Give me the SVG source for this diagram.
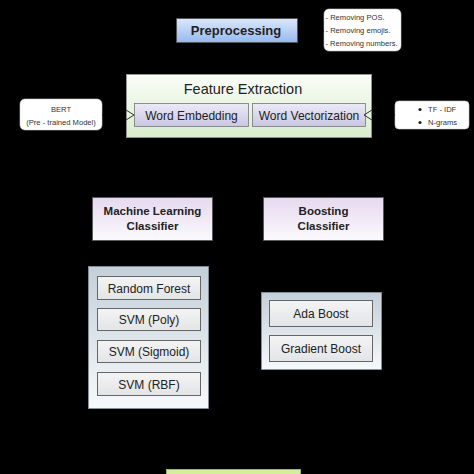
<svg xmlns="http://www.w3.org/2000/svg" width="474" height="474" viewBox="0 0 474 474">
<defs>
<linearGradient id="gBlue" x1="0" y1="0" x2="0" y2="1"><stop offset="0" stop-color="#dbe8fc"/><stop offset="1" stop-color="#98b8ee"/></linearGradient>
<linearGradient id="gGreen" x1="0" y1="0" x2="0" y2="1"><stop offset="0" stop-color="#fbfdf9"/><stop offset="1" stop-color="#d9edcc"/></linearGradient>
<linearGradient id="gLav" x1="0" y1="0" x2="0" y2="1"><stop offset="0" stop-color="#eceaf6"/><stop offset="1" stop-color="#c9c6e2"/></linearGradient>
<linearGradient id="gPink" x1="0" y1="0" x2="0" y2="1"><stop offset="0" stop-color="#e6d9ef"/><stop offset="1" stop-color="#fbfafd"/></linearGradient>
<linearGradient id="gCont" x1="0" y1="0" x2="0" y2="1"><stop offset="0" stop-color="#c3cfd9"/><stop offset="1" stop-color="#f7f9fb"/></linearGradient>
<linearGradient id="gItem" x1="0" y1="0" x2="0" y2="1"><stop offset="0" stop-color="#f4f4f4"/><stop offset="1" stop-color="#e2e4e6"/></linearGradient>
<marker id="arr" markerWidth="10" markerHeight="12" refX="1" refY="6" orient="auto" markerUnits="userSpaceOnUse"><path d="M1,1 L9,6 L1,11" fill="none" stroke="#333" stroke-width="1"/></marker>
<style>
.t{font-family:"Liberation Sans",Arial,sans-serif;fill:#222;text-anchor:middle}
.s{text-anchor:start}
.b{font-weight:bold}
.note{fill:#fff;stroke:#ccc;stroke-width:0.6}
.nt{font-size:7.6px;fill:#333}
.item{fill:url(#gItem);stroke:#666;stroke-width:1}
.cont{fill:url(#gCont);stroke:#8a96a0;stroke-width:0.8}
.conn{fill:none;stroke:#000;stroke-width:1}
</style>
</defs>
<rect width="474" height="474" fill="#000"/>
<g id="preprocessing">
<rect x="176.5" y="18.5" width="121" height="24" fill="url(#gBlue)" stroke="#555" stroke-width="1"/>
<text class="t b" x="236" y="35" font-size="13">Preprocessing</text>
</g>
<g id="prep-notes">
<rect class="note" x="324" y="9" width="77" height="42" rx="5"/>
<text class="t s nt" x="325.5" y="20">- Removing POS.</text>
<text class="t s nt" x="325.5" y="33">- Removing emojis.</text>
<text class="t s nt" x="325.5" y="46" textLength="72" lengthAdjust="spacingAndGlyphs">- Removing numbers.</text>
</g>
<g id="feature-extraction">
<rect x="126.5" y="74.5" width="245" height="63" fill="url(#gGreen)" stroke="#999" stroke-width="0.8"/>
<text class="t" x="243" y="94" font-size="14.5">Feature Extraction</text>
</g>
<g id="word-embedding">
<rect x="134.5" y="103.5" width="114" height="23" fill="url(#gLav)" stroke="#777" stroke-width="0.8"/>
<text class="t" x="191.5" y="119.5" font-size="12">Word Embedding</text>
</g>
<g id="word-vectorization">
<rect x="252.5" y="103.5" width="113" height="23" fill="url(#gLav)" stroke="#777" stroke-width="0.8"/>
<text class="t" x="309" y="119.5" font-size="12">Word Vectorization</text>
</g>
<g id="bert">
<rect class="note" x="20" y="99" width="82" height="31" rx="5"/>
<text class="t nt" x="61" y="112">BERT</text>
<text class="t nt" x="61" y="125">(Pre - trained Model)</text>
</g>
<g id="tfidf">
<rect class="note" x="395" y="101" width="74" height="28" rx="4"/>
<circle cx="420" cy="109.5" r="1.6" fill="#222"/>
<circle cx="420" cy="122.5" r="1.6" fill="#222"/>
<text class="t s nt" x="428" y="112">TF - IDF</text>
<text class="t s nt" x="428" y="125">N-grams</text>
</g>
<g id="ml-classifier">
<rect x="92.5" y="197.5" width="120" height="43" fill="url(#gPink)" stroke="#555" stroke-width="0.8"/>
<text class="t b" x="152.5" y="215" font-size="11.5">Machine Learning</text>
<text class="t b" x="152.5" y="230" font-size="11.5">Classifier</text>
</g>
<g id="boosting-classifier">
<rect x="263.5" y="197.5" width="120" height="43" fill="url(#gPink)" stroke="#555" stroke-width="0.8"/>
<text class="t b" x="323.5" y="215" font-size="11.5">Boosting</text>
<text class="t b" x="323.5" y="230" font-size="11.5">Classifier</text>
</g>
<g id="ml-group">
<rect class="cont" x="88.5" y="266.5" width="120" height="142"/>
</g>
<g id="random-forest">
<rect class="item" x="97.5" y="276.5" width="103" height="23"/>
<text class="t" x="149" y="292.5" font-size="12">Random Forest</text>
</g>
<g id="svm-poly">
<rect class="item" x="97.5" y="308.5" width="103" height="22"/>
<text class="t" x="149" y="324" font-size="12">SVM (Poly)</text>
</g>
<g id="svm-sigmoid">
<rect class="item" x="97.5" y="340.5" width="103" height="22"/>
<text class="t" x="149" y="356" font-size="12">SVM (Sigmoid)</text>
</g>
<g id="svm-rbf">
<rect class="item" x="97.5" y="372.5" width="103" height="23"/>
<text class="t" x="149" y="388.5" font-size="12">SVM (RBF)</text>
</g>
<g id="boost-group">
<rect class="cont" x="261.5" y="292.5" width="120" height="77"/>
</g>
<g id="ada-boost">
<rect class="item" x="269.5" y="300.5" width="103" height="26"/>
<text class="t" x="321" y="318" font-size="12">Ada Boost</text>
</g>
<g id="gradient-boost">
<rect class="item" x="269.5" y="335.5" width="103" height="26"/>
<text class="t" x="321" y="353" font-size="12">Gradient Boost</text>
</g>
<g id="output">
<rect x="166.5" y="469.5" width="134" height="10" fill="#d5ee9e" stroke="#a8c070" stroke-width="0.8"/>
</g>
<g id="connectors">
<line class="conn" x1="102" y1="115" x2="126" y2="115" marker-end="url(#arr)"/>
<line class="conn" x1="395" y1="115" x2="372" y2="115" marker-end="url(#arr)"/>
<line class="conn" x1="324" y1="31" x2="298" y2="31"/>
<line class="conn" x1="236" y1="43" x2="236" y2="74"/>
<line class="conn" x1="249" y1="138" x2="249" y2="170"/>
<line class="conn" x1="152" y1="170" x2="323" y2="170"/>
<line class="conn" x1="152" y1="170" x2="152" y2="197"/>
<line class="conn" x1="323" y1="170" x2="323" y2="197"/>
<line class="conn" x1="152" y1="241" x2="152" y2="266"/>
<line class="conn" x1="323" y1="241" x2="323" y2="292"/>
<line class="conn" x1="148" y1="409" x2="148" y2="440"/>
<line class="conn" x1="321" y1="370" x2="321" y2="440"/>
<line class="conn" x1="148" y1="440" x2="321" y2="440"/>
<line class="conn" x1="234" y1="440" x2="234" y2="469"/>
</g>
</svg>
